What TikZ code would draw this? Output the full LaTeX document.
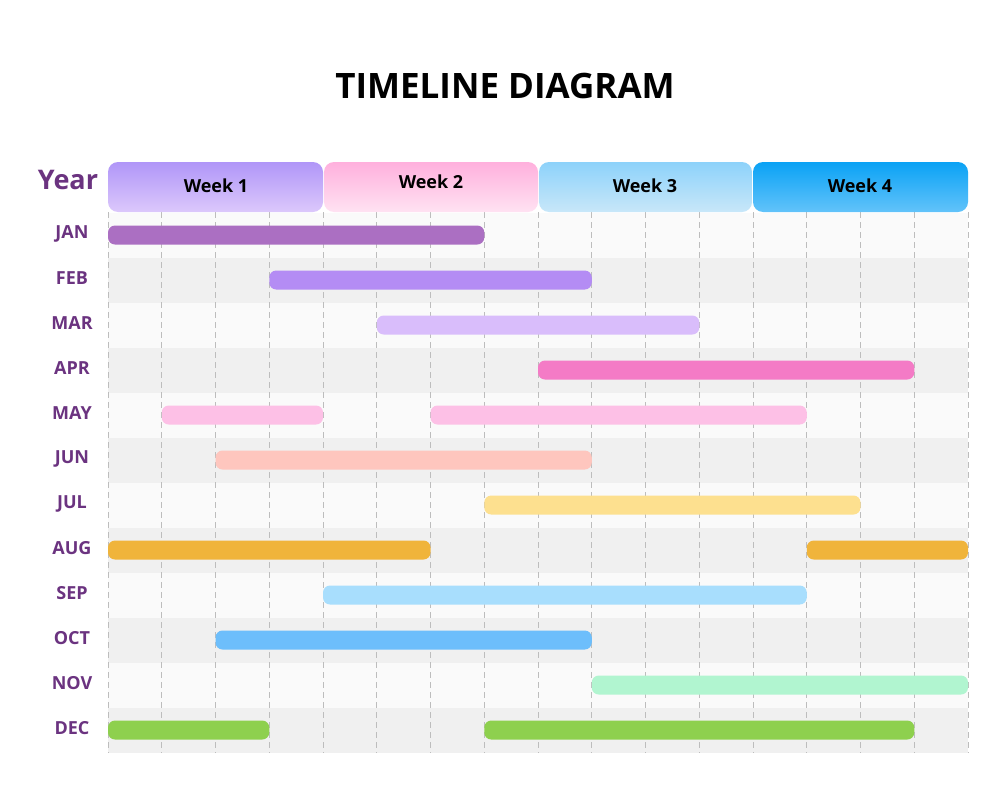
\documentclass[tikz,border=0pt]{standalone}
\usepackage{fontspec}
\setmainfont{Open Sans}
\definecolor{lbl}{HTML}{6B3380}
\definecolor{rowA}{HTML}{FAFAFA}
\definecolor{rowB}{HTML}{F0F0F0}
\definecolor{gridc}{HTML}{BDBDBD}
\definecolor{cJAN}{HTML}{AB6FC2}
\definecolor{cFEB}{HTML}{B48CF4}
\definecolor{cMAR}{HTML}{D9BDFB}
\definecolor{cAPR}{HTML}{F47BC6}
\definecolor{cMAY}{HTML}{FDC0E6}
\definecolor{cJUN}{HTML}{FEC6BE}
\definecolor{cJUL}{HTML}{FDE08F}
\definecolor{cAUG}{HTML}{F0B43B}
\definecolor{cSEP}{HTML}{A8DEFD}
\definecolor{cOCT}{HTML}{6DBEFB}
\definecolor{cNOV}{HTML}{B1F5D0}
\definecolor{cDEC}{HTML}{8ED04E}
\definecolor{hAt}{HTML}{B096F8}\definecolor{hAb}{HTML}{DCC8FB}
\definecolor{hBt}{HTML}{FFB0DD}\definecolor{hBb}{HTML}{FFE2F2}
\definecolor{hCt}{HTML}{8DD2FA}\definecolor{hCb}{HTML}{C8E7F9}
\definecolor{hDt}{HTML}{0AA2F5}\definecolor{hDb}{HTML}{62C3FA}
\tikzset{
  monthlbl/.style={text=lbl,font=\fontsize{18}{20}\selectfont\bfseries,anchor=center,inner sep=0pt},
  weeklbl/.style={text=black,font=\fontsize{18}{20}\selectfont\bfseries,anchor=center,inner sep=0pt},
  hdrbox/.style={rounded corners=10pt},
  barshape/.style={rounded corners=7pt},
  gridline/.style={draw=gridc,line width=1pt,dash pattern=on 6pt off 4pt},
}
\newcommand{\tlbar}[4]{%
  \fill[barshape,#4] ({108+#2*53.75},{212.5+45*#1+13}) rectangle ({108+#3*53.75},{212.5+45*#1+32});}
\begin{document}
\begin{tikzpicture}[x=1pt,y=-1pt]
\useasboundingbox[fill=white] (0,0) rectangle (1000,800);
% rows
\foreach \r in {0,...,11}{
  \ifodd\r
    \fill[rowB] (108,{212.5+45*\r}) rectangle (968,{212.5+45*(\r+1)});
  \else
    \fill[rowA] (108,{212.5+45*\r}) rectangle (968,{212.5+45*(\r+1)});
  \fi
}
% grid
\foreach \c in {0,...,16}{
  \draw[gridline] ({108+\c*53.75},212) -- ({108+\c*53.75},753);
}
% header
\shade[hdrbox,top color=hAt,bottom color=hAb] (108,162) rectangle (323,212);
\shade[hdrbox,top color=hBt,bottom color=hBb] (324,162) rectangle (538,212);
\shade[hdrbox,top color=hCt,bottom color=hCb] (539,162) rectangle (752,212);
\shade[hdrbox,top color=hDt,bottom color=hDb] (753,162) rectangle (968,212);
\node[weeklbl] (w1) at (216,186) {Week 1};
\node[weeklbl] (w2) at (431,182) {Week 2};
\node[weeklbl] (w3) at (645,186) {Week 3};
\node[weeklbl] (w4) at (860,186) {Week 4};
\node[text=lbl,font=\fontsize{27}{30}\selectfont\bfseries,inner sep=0pt] (year) at (68,180) {Year};
\node[font=\fontsize{35}{40}\selectfont\bfseries,inner sep=0pt] (title) at (505,86) {TIMELINE DIAGRAM};
% month labels
\foreach \m [count=\i from 0] in {JAN,FEB,MAR,APR,MAY,JUN,JUL,AUG,SEP,OCT,NOV,DEC}{
  \node[monthlbl] (m\m) at (72,{212.5+45*\i+21}) {\m};
}
% bars
\tlbar{0}{0}{7}{cJAN}
\tlbar{1}{3}{9}{cFEB}
\tlbar{2}{5}{11}{cMAR}
\tlbar{3}{8}{15}{cAPR}
\tlbar{4}{1}{4}{cMAY}
\tlbar{4}{6}{13}{cMAY}
\tlbar{5}{2}{9}{cJUN}
\tlbar{6}{7}{14}{cJUL}
\tlbar{7}{0}{6}{cAUG}
\tlbar{7}{13}{16}{cAUG}
\tlbar{8}{4}{13}{cSEP}
\tlbar{9}{2}{9}{cOCT}
\tlbar{10}{9}{16}{cNOV}
\tlbar{11}{0}{3}{cDEC}
\tlbar{11}{7}{15}{cDEC}
\end{tikzpicture}
\end{document}
